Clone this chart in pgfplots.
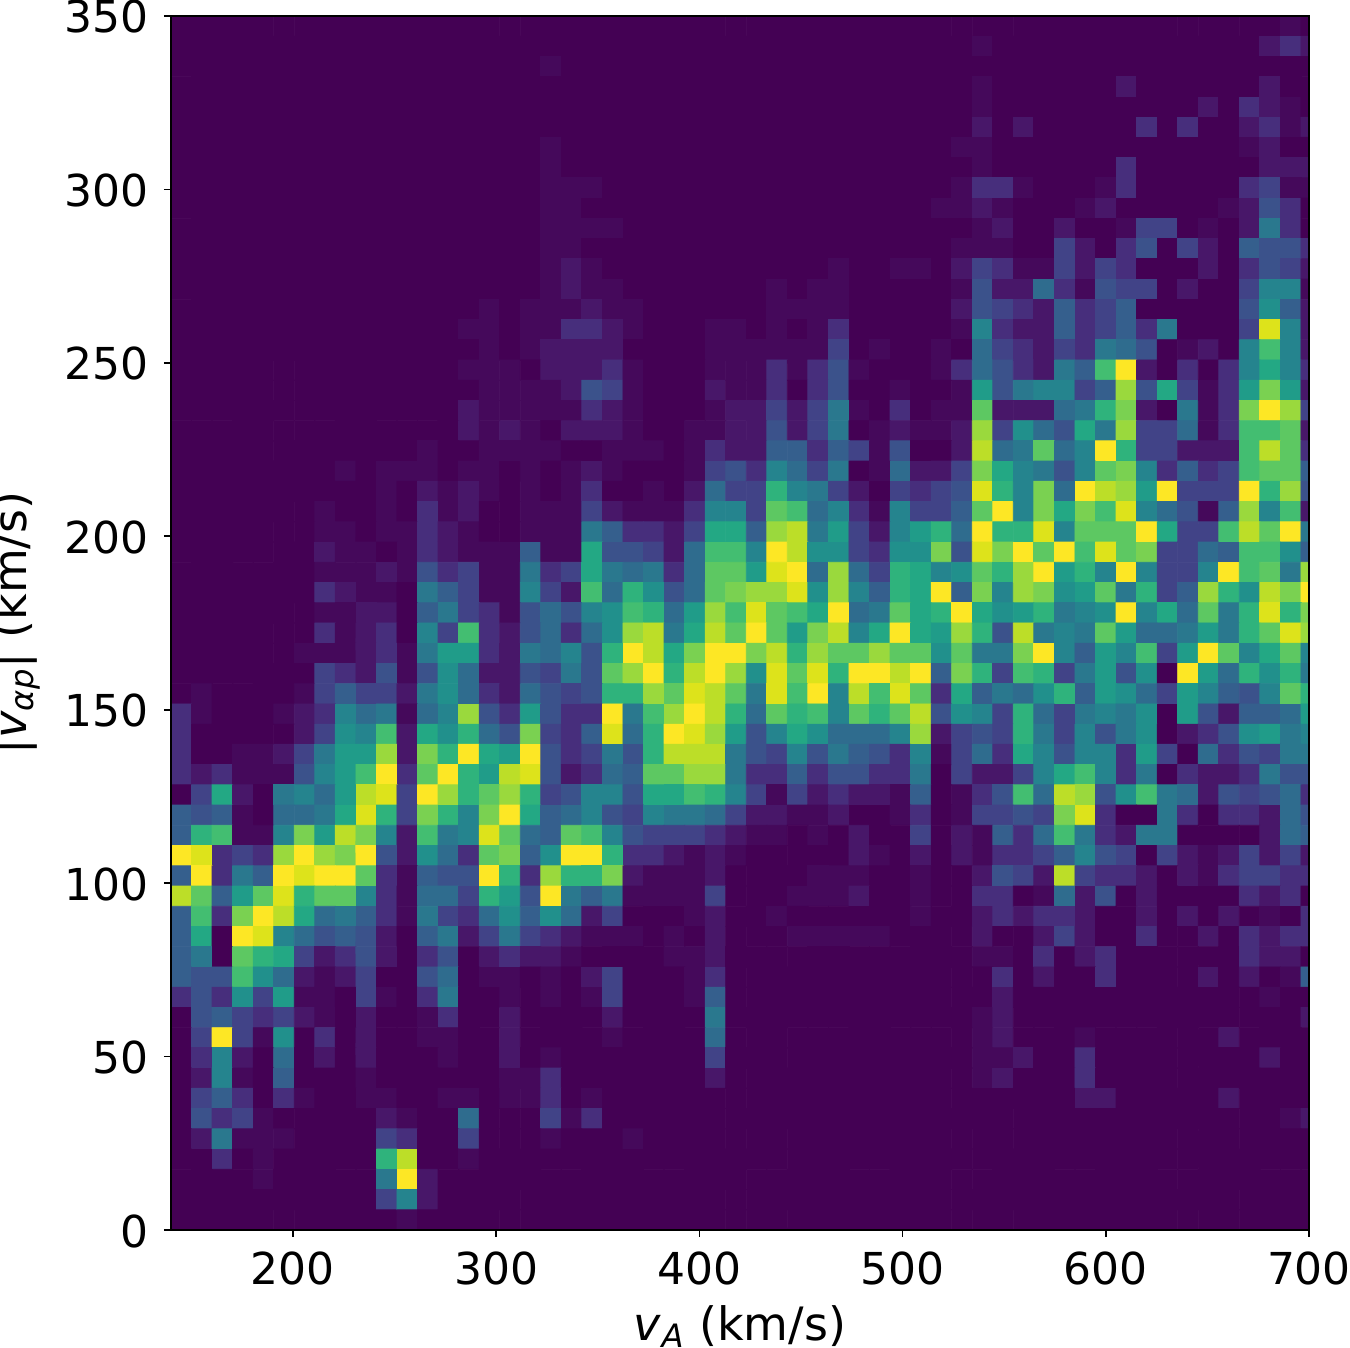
\documentclass[border=0pt]{standalone}
\usepackage{fontspec}
\setmainfont{DejaVu Sans}
\usepackage{pgfplots}
\pgfplotsset{compat=1.18}
\begin{document}
\begin{tikzpicture}
\useasboundingbox (-85.5pt,-59pt) rectangle (589.5pt,615pt);
\begin{axis}[
    at={(0pt,0pt)}, anchor=south west,
    scale only axis, width=569pt, height=607pt,
    xmin=140, xmax=700, ymin=0, ymax=350,
    xtick={200,300,400,500,600,700},
    ytick={0,50,100,150,200,250,300,350},
    tick align=outside, xtick pos=bottom, ytick pos=left,
    tick style={black, line width=0.8pt}, major tick length=3.5pt,
    axis line style={line width=0.8pt},
    /pgf/number format/assume math mode=true,
    ticklabel style={font=\fontsize{22}{26}\selectfont},
    xticklabel style={yshift=-4pt},
    yticklabel style={xshift=-4pt, yshift=-0.5pt},
    label style={font=\fontsize{23}{27}\selectfont},
    xlabel style={yshift=-3pt},
    ylabel style={yshift=5.5pt},
    xlabel={\textit{v}\textsubscript{\textit{A}} (km/s)},
    ylabel={|\textit{v}\textsubscript{\textit{αp}}| (km/s)},
    colormap/viridis, point meta min=0, point meta max=20,
    axis on top,
]
\addplot[matrix plot*, mesh/cols=56, point meta=explicit] table[
    header=false, row sep=\\,
    x expr={140+10.11*mod(\coordindex+0.5,56)},
    y expr={350-5.83333*(floor((\coordindex+0.5)/56)+0.5)},
    meta expr={ifthenelse(\thisrowno{0}==1,0.4,ifthenelse(\thisrowno{0}==2,1.2,ifthenelse(\thisrowno{0}==3,2.6,\thisrowno{0})))}] {
0\\0\\0\\0\\0\\0\\0\\0\\0\\0\\0\\0\\0\\0\\ 0\\0\\0\\0\\0\\0\\0\\0\\0\\0\\0\\0\\0\\0\\ 0\\0\\0\\0\\0\\0\\0\\0\\0\\0\\0\\0\\0\\0\\ 0\\0\\0\\0\\0\\0\\0\\0\\0\\0\\0\\0\\1\\0\\
0\\0\\0\\0\\0\\0\\0\\0\\0\\0\\0\\0\\0\\0\\ 0\\0\\0\\0\\0\\0\\0\\0\\0\\0\\0\\0\\0\\0\\ 0\\0\\0\\0\\0\\0\\0\\0\\0\\0\\0\\1\\0\\0\\ 0\\0\\0\\0\\0\\0\\0\\0\\0\\0\\0\\2\\3\\2\\
0\\0\\0\\0\\0\\0\\0\\0\\0\\0\\0\\0\\0\\0\\ 0\\0\\0\\0\\1\\0\\0\\0\\0\\0\\0\\0\\0\\0\\ 0\\0\\0\\0\\0\\0\\0\\0\\0\\0\\0\\0\\0\\0\\ 0\\0\\0\\0\\0\\0\\0\\0\\0\\0\\0\\0\\0\\0\\
0\\0\\0\\0\\0\\0\\0\\0\\0\\0\\0\\0\\0\\0\\ 0\\0\\0\\0\\0\\0\\0\\0\\0\\0\\0\\0\\0\\0\\ 0\\0\\0\\0\\0\\0\\0\\0\\0\\0\\0\\1\\0\\0\\ 0\\0\\0\\0\\2\\0\\0\\0\\0\\0\\0\\2\\0\\0\\
0\\0\\0\\0\\0\\0\\0\\0\\0\\0\\0\\0\\0\\0\\ 0\\0\\0\\0\\0\\0\\0\\0\\0\\0\\0\\0\\0\\0\\ 0\\0\\0\\0\\0\\0\\0\\0\\0\\0\\0\\1\\0\\0\\ 0\\0\\0\\0\\0\\0\\0\\0\\2\\0\\3\\2\\1\\0\\
0\\0\\0\\0\\0\\0\\0\\0\\0\\0\\0\\0\\0\\0\\ 0\\0\\0\\0\\0\\0\\0\\0\\0\\0\\0\\0\\0\\0\\ 0\\0\\0\\0\\0\\0\\0\\0\\0\\0\\0\\2\\0\\2\\ 0\\0\\0\\0\\0\\3\\0\\3\\0\\0\\2\\3\\1\\2\\
0\\0\\0\\0\\0\\0\\0\\0\\0\\0\\0\\0\\0\\0\\ 0\\0\\0\\0\\1\\0\\0\\0\\0\\0\\0\\0\\0\\0\\ 0\\0\\0\\0\\0\\0\\0\\0\\0\\0\\1\\1\\0\\0\\ 0\\0\\0\\0\\0\\0\\0\\0\\0\\0\\1\\2\\0\\0\\
0\\0\\0\\0\\0\\0\\0\\0\\0\\0\\0\\0\\0\\0\\ 0\\0\\0\\0\\1\\0\\0\\0\\0\\0\\0\\0\\0\\0\\ 0\\0\\0\\0\\0\\0\\0\\0\\0\\0\\0\\1\\0\\0\\ 0\\0\\0\\0\\3\\0\\0\\0\\0\\0\\0\\2\\2\\2\\
0\\0\\0\\0\\0\\0\\0\\0\\0\\0\\0\\0\\0\\0\\ 0\\0\\0\\0\\1\\1\\1\\0\\0\\0\\0\\0\\0\\0\\ 0\\0\\0\\0\\0\\0\\0\\0\\0\\0\\1\\3\\3\\1\\ 0\\0\\0\\1\\3\\0\\0\\0\\0\\0\\3\\4\\1\\1\\
0\\0\\0\\0\\0\\0\\0\\0\\0\\0\\0\\0\\0\\0\\ 0\\0\\0\\0\\1\\1\\0\\0\\0\\0\\0\\0\\0\\0\\ 0\\0\\0\\0\\0\\0\\0\\0\\0\\1\\1\\2\\1\\0\\ 0\\0\\1\\2\\0\\0\\0\\0\\0\\1\\2\\5\\3\\0\\
0\\0\\0\\0\\0\\0\\0\\0\\0\\0\\0\\0\\0\\0\\ 0\\0\\0\\0\\1\\1\\1\\1\\0\\0\\0\\0\\0\\0\\ 0\\0\\0\\0\\0\\0\\0\\0\\0\\0\\0\\1\\2\\0\\ 0\\2\\0\\0\\1\\4\\4\\0\\1\\0\\2\\8\\3\\0\\
0\\0\\0\\0\\0\\0\\0\\0\\0\\0\\0\\0\\0\\0\\ 0\\0\\0\\0\\1\\1\\0\\0\\0\\0\\0\\0\\0\\0\\ 0\\0\\0\\0\\0\\0\\0\\0\\0\\0\\1\\1\\1\\0\\ 0\\4\\2\\0\\3\\5\\0\\4\\2\\0\\6\\5\\5\\3\\
0\\0\\0\\0\\0\\0\\0\\0\\0\\0\\0\\0\\0\\0\\ 0\\0\\0\\0\\1\\2\\1\\0\\0\\0\\0\\0\\0\\0\\ 0\\0\\0\\0\\1\\0\\0\\1\\1\\0\\2\\4\\3\\1\\ 1\\4\\2\\4\\3\\0\\0\\0\\2\\0\\3\\5\\4\\2\\
0\\0\\0\\0\\0\\0\\0\\0\\0\\0\\0\\0\\0\\0\\ 0\\0\\0\\0\\1\\2\\1\\1\\0\\0\\0\\0\\0\\0\\ 0\\1\\0\\1\\1\\0\\0\\0\\0\\0\\1\\5\\2\\2\\ 7\\3\\1\\5\\4\\4\\0\\2\\0\\0\\4\\9\\9\\1\\
0\\0\\0\\0\\0\\0\\0\\0\\0\\0\\0\\0\\0\\0\\ 0\\1\\0\\1\\1\\1\\2\\1\\1\\0\\0\\0\\0\\0\\ 0\\1\\1\\1\\1\\0\\0\\0\\0\\0\\2\\5\\4\\3\\ 2\\6\\3\\4\\6\\0\\0\\0\\0\\0\\5\\10\\6\\2\\
0\\0\\0\\0\\0\\0\\0\\0\\0\\0\\0\\0\\0\\0\\ 1\\1\\0\\1\\1\\3\\3\\2\\1\\0\\0\\0\\1\\1\\ 0\\1\\0\\1\\3\\0\\0\\0\\0\\0\\1\\9\\3\\2\\ 2\\6\\3\\4\\6\\3\\8\\0\\0\\0\\4\\19\\9\\2\\
0\\0\\0\\0\\0\\0\\0\\0\\0\\0\\0\\0\\0\\0\\ 0\\1\\0\\1\\2\\2\\2\\2\\0\\0\\0\\0\\1\\1\\ 1\\1\\1\\1\\4\\0\\1\\0\\0\\1\\0\\7\\4\\3\\ 2\\4\\3\\8\\7\\5\\0\\1\\2\\0\\9\\14\\9\\2\\
0\\0\\0\\0\\0\\0\\0\\0\\0\\0\\0\\0\\0\\0\\ 1\\1\\1\\0\\2\\2\\2\\3\\1\\0\\0\\0\\1\\1\\ 1\\3\\1\\3\\5\\1\\0\\0\\0\\1\\3\\7\\5\\3\\ 2\\8\\6\\14\\20\\2\\0\\3\\0\\3\\9\\12\\9\\3\\
0\\0\\0\\0\\0\\0\\0\\0\\0\\0\\0\\0\\0\\0\\ 0\\1\\1\\1\\1\\2\\5\\4\\1\\0\\0\\0\\2\\1\\ 1\\3\\0\\3\\5\\0\\0\\1\\0\\0\\1\\11\\5\\8\\ 9\\9\\4\\6\\17\\5\\12\\4\\1\\3\\11\\16\\11\\2\\
0\\0\\0\\0\\0\\0\\0\\0\\0\\0\\0\\0\\0\\0\\ 2\\1\\1\\1\\1\\1\\3\\2\\1\\0\\0\\0\\1\\2\\ 2\\4\\2\\4\\8\\1\\0\\3\\0\\1\\1\\15\\2\\2\\ 2\\7\\8\\13\\16\\2\\0\\8\\1\\3\\16\\20\\17\\4\\
0\\0\\0\\0\\0\\0\\0\\0\\0\\0\\0\\0\\0\\0\\ 2\\1\\2\\1\\0\\2\\2\\2\\1\\0\\0\\1\\1\\2\\ 2\\5\\2\\4\\8\\0\\1\\2\\1\\1\\2\\17\\4\\10\\ 7\\5\\12\\8\\17\\4\\4\\7\\1\\3\\14\\14\\15\\2\\
0\\0\\0\\0\\0\\0\\0\\0\\0\\0\\0\\0\\1\\0\\ 0\\1\\1\\1\\1\\0\\0\\1\\1\\1\\0\\1\\3\\2\\ 2\\6\\6\\3\\6\\4\\1\\5\\0\\0\\2\\18\\7\\8\\ 15\\7\\9\\20\\13\\4\\4\\2\\2\\2\\14\\18\\15\\3\\
0\\0\\0\\0\\0\\0\\0\\0\\1\\0\\1\\1\\1\\0\\ 1\\1\\0\\1\\0\\1\\2\\1\\0\\0\\0\\1\\4\\5\\ 3\\9\\7\\4\\8\\0\\1\\7\\2\\2\\4\\16\\12\\9\\ 8\\5\\9\\15\\16\\9\\3\\6\\3\\4\\14\\15\\15\\6\\
0\\0\\0\\0\\0\\0\\0\\0\\0\\0\\1\\0\\2\\1\\ 2\\1\\0\\1\\0\\1\\3\\0\\0\\1\\0\\2\\7\\4\\ 4\\13\\9\\8\\4\\2\\0\\4\\3\\4\\5\\19\\13\\9\\ 16\\7\\20\\18\\17\\11\\20\\4\\4\\4\\20\\13\\17\\5\\
0\\0\\0\\0\\0\\0\\0\\1\\0\\0\\1\\0\\3\\1\\ 2\\0\\0\\1\\1\\1\\4\\2\\1\\1\\1\\3\\9\\9\\ 4\\15\\14\\7\\9\\3\\1\\9\\4\\4\\6\\15\\20\\9\\ 16\\12\\16\\14\\19\\9\\7\\5\\1\\6\\17\\9\\14\\2\\
0\\0\\0\\0\\0\\0\\0\\1\\1\\0\\1\\1\\3\\2\\ 1\\0\\0\\1\\1\\1\\8\\6\\3\\3\\2\\4\\12\\12\\ 6\\17\\18\\8\\11\\4\\2\\9\\11\\13\\7\\20\\13\\13\\ 19\\9\\15\\15\\15\\20\\12\\4\\4\\14\\18\\15\\20\\8\\
0\\0\\0\\0\\0\\0\\0\\2\\1\\1\\0\\1\\3\\2\\ 1\\1\\1\\6\\1\\1\\12\\5\\5\\4\\2\\7\\14\\14\\ 9\\20\\18\\10\\10\\4\\3\\10\\10\\16\\5\\19\\16\\20\\ 15\\20\\14\\19\\15\\16\\4\\4\\7\\6\\14\\14\\10\\6\\
0\\0\\0\\0\\0\\0\\0\\1\\1\\1\\2\\1\\5\\3\\ 4\\1\\1\\8\\3\\4\\12\\8\\7\\8\\3\\7\\15\\15\\ 11\\19\\20\\7\\17\\7\\4\\13\\12\\9\\10\\15\\13\\17\\ 20\\11\\13\\9\\20\\9\\4\\4\\9\\20\\14\\15\\8\\17\\
0\\0\\0\\0\\0\\0\\0\\3\\2\\1\\1\\0\\8\\6\\ 4\\1\\1\\9\\4\\2\\14\\7\\13\\10\\5\\7\\15\\16\\ 17\\17\\19\\10\\17\\9\\6\\13\\12\\20\\6\\16\\9\\17\\ 16\\10\\11\\15\\8\\13\\4\\6\\17\\13\\10\\18\\16\\20\\
0\\0\\0\\0\\0\\0\\0\\1\\1\\2\\2\\0\\6\\8\\ 4\\3\\1\\5\\7\\5\\9\\10\\14\\13\\7\\11\\17\\14\\ 19\\15\\14\\12\\20\\7\\8\\15\\12\\13\\20\\12\\10\\11\\ 13\\8\\9\\10\\20\\9\\12\\7\\15\\8\\13\\19\\13\\16\\
0\\0\\0\\0\\0\\0\\0\\3\\1\\2\\3\\0\\9\\4\\ 14\\3\\2\\5\\7\\3\\7\\10\\17\\18\\8\\12\\18\\15\\ 20\\15\\11\\16\\18\\9\\12\\20\\12\\11\\17\\13\\5\\18\\ 8\\9\\8\\15\\11\\7\\7\\8\\11\\8\\13\\15\\19\\17\\
0\\0\\0\\0\\0\\0\\1\\1\\1\\2\\3\\1\\8\\11\\ 11\\3\\2\\8\\7\\9\\5\\13\\20\\18\\12\\16\\20\\20\\ 16\\18\\13\\17\\15\\15\\17\\15\\15\\10\\15\\8\\8\\16\\ 20\\9\\6\\11\\9\\14\\4\\11\\20\\15\\9\\12\\15\\9\\
0\\0\\0\\0\\0\\0\\0\\4\\3\\2\\5\\1\\5\\10\\ 7\\2\\2\\5\\4\\8\\5\\15\\17\\20\\13\\18\\20\\17\\ 10\\19\\15\\19\\13\\20\\20\\18\\20\\6\\16\\13\\4\\14\\ 13\\4\\8\\11\\5\\10\\0\\20\\11\\7\\13\\10\\13\\8\\
0\\1\\0\\0\\0\\0\\1\\4\\6\\4\\4\\2\\8\\10\\ 7\\3\\2\\7\\5\\4\\5\\13\\13\\17\\15\\19\\18\\15\\ 8\\19\\14\\20\\9\\18\\14\\19\\15\\3\\12\\6\\8\\7\\ 10\\13\\6\\11\\10\\7\\4\\11\\9\\6\\5\\9\\15\\13\\
3\\1\\0\\0\\0\\1\\2\\3\\9\\7\\8\\1\\7\\9\\ 17\\5\\3\\11\\5\\3\\3\\20\\8\\14\\17\\20\\18\\13\\ 7\\15\\13\\14\\9\\15\\13\\15\\18\\5\\10\\9\\4\\13\\ 7\\4\\8\\9\\8\\10\\0\\11\\5\\2\\6\\6\\7\\11\\
3\\0\\0\\0\\0\\0\\2\\4\\10\\9\\14\\2\\12\\10\\ 13\\7\\5\\16\\4\\3\\6\\19\\7\\13\\20\\19\\17\\11\\ 5\\9\\12\\10\\7\\7\\7\\9\\17\\2\\4\\5\\4\\13\\ 8\\4\\9\\5\\8\\10\\0\\2\\3\\5\\10\\11\\8\\9\\
3\\0\\0\\1\\1\\2\\4\\8\\11\\11\\17\\2\\16\\13\\ 20\\12\\11\\20\\5\\3\\4\\8\\5\\13\\18\\18\\18\\8\\ 5\\4\\9\\5\\8\\6\\5\\3\\9\\1\\4\\7\\3\\12\\ 9\\5\\9\\9\\3\\11\\4\\0\\7\\3\\5\\4\\8\\8\\
3\\2\\3\\1\\1\\1\\5\\9\\11\\14\\20\\3\\15\\20\\ 13\\11\\18\\19\\5\\2\\3\\7\\6\\15\\15\\17\\17\\8\\ 3\\3\\6\\3\\5\\5\\3\\3\\8\\0\\4\\2\\2\\4\\ 9\\12\\14\\9\\3\\8\\0\\3\\2\\2\\3\\8\\5\\5\\
0\\4\\12\\2\\0\\8\\9\\7\\11\\18\\19\\4\\20\\17\\ 13\\15\\17\\13\\4\\5\\9\\9\\5\\12\\12\\14\\13\\9\\ 4\\1\\4\\2\\3\\2\\2\\1\\6\\0\\1\\3\\5\\14\\ 7\\18\\17\\5\\10\\14\\8\\7\\2\\5\\4\\5\\7\\3\\
6\\5\\6\\1\\0\\7\\7\\8\\12\\19\\13\\4\\16\\13\\ 9\\16\\20\\12\\6\\7\\9\\5\\4\\9\\8\\8\\7\\4\\ 2\\2\\1\\1\\2\\0\\0\\1\\3\\0\\1\\4\\4\\5\\ 4\\16\\19\\3\\0\\0\\8\\3\\0\\3\\3\\2\\7\\5\\
6\\13\\14\\1\\1\\9\\16\\11\\18\\16\\9\\2\\14\\8\\ 9\\19\\15\\7\\6\\15\\14\\9\\5\\4\\4\\4\\3\\2\\ 1\\1\\0\\1\\0\\2\\0\\0\\4\\0\\2\\1\\6\\3\\ 7\\14\\8\\3\\2\\8\\8\\0\\0\\0\\0\\2\\7\\6\\
20\\19\\3\\4\\3\\17\\20\\17\\16\\20\\5\\2\\10\\7\\ 3\\15\\16\\6\\10\\20\\20\\13\\3\\3\\2\\1\\2\\1\\ 0\\0\\0\\0\\0\\2\\1\\0\\2\\0\\2\\1\\3\\3\\ 4\\6\\9\\5\\4\\0\\4\\2\\1\\2\\4\\2\\4\\2\\
6\\20\\3\\8\\6\\20\\19\\20\\20\\15\\3\\1\\6\\5\\ 5\\20\\13\\3\\17\\13\\13\\16\\2\\1\\1\\1\\2\\0\\ 0\\0\\0\\1\\1\\1\\0\\0\\1\\0\\0\\2\\5\\4\\ 2\\18\\4\\3\\3\\2\\0\\2\\1\\3\\4\\4\\3\\3\\
18\\15\\6\\11\\15\\19\\13\\15\\15\\9\\3\\1\\7\\7\\ 4\\13\\11\\5\\20\\8\\6\\8\\1\\1\\1\\1\\4\\0\\ 0\\0\\1\\1\\1\\2\\0\\0\\1\\0\\0\\3\\3\\0\\ 1\\7\\2\\5\\0\\2\\0\\0\\0\\0\\3\\2\\3\\0\\
6\\14\\3\\16\\20\\18\\12\\7\\8\\6\\3\\1\\8\\4\\ 3\\7\\10\\6\\10\\7\\2\\4\\0\\0\\0\\1\\2\\0\\ 0\\1\\0\\0\\0\\0\\0\\0\\1\\0\\0\\2\\3\\2\\ 3\\3\\2\\0\\0\\2\\0\\2\\0\\2\\0\\1\\0\\3\\
6\\12\\0\\20\\19\\9\\7\\5\\6\\5\\2\\0\\6\\8\\ 2\\4\\8\\4\\3\\2\\1\\1\\1\\0\\1\\0\\2\\0\\ 0\\0\\1\\1\\1\\1\\1\\0\\0\\0\\0\\2\\0\\0\\ 2\\4\\2\\0\\0\\3\\0\\0\\2\\0\\3\\2\\3\\3\\
6\\8\\0\\15\\13\\12\\4\\2\\3\\5\\2\\0\\3\\5\\ 0\\2\\3\\2\\2\\1\\0\\0\\0\\0\\1\\1\\2\\0\\ 0\\0\\0\\0\\0\\0\\0\\0\\0\\0\\0\\1\\1\\0\\ 3\\0\\2\\3\\0\\0\\0\\0\\0\\0\\3\\2\\2\\0\\
6\\5\\5\\14\\10\\7\\2\\1\\2\\4\\0\\0\\5\\7\\ 0\\1\\1\\0\\1\\0\\2\\4\\0\\0\\0\\1\\3\\0\\ 0\\0\\0\\0\\0\\0\\0\\0\\0\\0\\0\\0\\3\\0\\ 2\\0\\0\\3\\0\\0\\0\\0\\2\\0\\2\\0\\1\\6\\
3\\5\\3\\10\\4\\11\\1\\1\\0\\4\\1\\0\\3\\8\\ 0\\0\\1\\0\\1\\0\\1\\4\\0\\0\\0\\1\\6\\0\\ 0\\0\\0\\0\\0\\0\\0\\0\\0\\0\\0\\0\\2\\0\\ 0\\0\\0\\0\\0\\0\\0\\0\\0\\0\\0\\1\\0\\0\\
0\\5\\6\\4\\3\\4\\2\\1\\0\\2\\0\\0\\1\\3\\ 0\\0\\2\\0\\0\\0\\0\\2\\0\\0\\0\\0\\8\\0\\ 0\\0\\0\\0\\0\\0\\0\\0\\0\\0\\0\\1\\2\\0\\ 0\\0\\0\\0\\0\\0\\0\\0\\0\\0\\0\\0\\0\\2\\
0\\4\\20\\4\\1\\10\\0\\3\\0\\2\\0\\0\\1\\1\\ 0\\0\\2\\0\\0\\0\\0\\1\\0\\0\\0\\0\\7\\0\\ 0\\0\\0\\0\\0\\0\\0\\0\\0\\0\\0\\1\\2\\0\\ 0\\0\\1\\0\\0\\0\\0\\0\\0\\2\\0\\0\\0\\0\\
0\\3\\9\\2\\0\\7\\0\\2\\0\\2\\0\\0\\0\\1\\ 0\\0\\2\\0\\1\\0\\0\\0\\0\\0\\0\\0\\4\\0\\ 0\\0\\0\\0\\0\\0\\0\\0\\0\\0\\0\\1\\1\\2\\ 0\\0\\3\\0\\0\\0\\0\\0\\0\\0\\0\\2\\0\\0\\
0\\2\\9\\1\\0\\6\\0\\0\\0\\1\\0\\0\\0\\0\\ 0\\0\\1\\1\\3\\0\\0\\0\\0\\0\\0\\0\\2\\0\\ 0\\0\\0\\0\\0\\0\\0\\0\\0\\0\\0\\1\\2\\0\\ 0\\0\\3\\0\\0\\0\\0\\0\\0\\0\\0\\0\\0\\0\\
0\\4\\6\\3\\0\\3\\1\\0\\0\\1\\1\\0\\0\\1\\ 1\\0\\1\\1\\3\\0\\1\\0\\0\\0\\0\\0\\0\\0\\ 0\\0\\0\\0\\0\\0\\0\\0\\0\\0\\0\\0\\0\\0\\ 0\\0\\2\\2\\0\\0\\0\\0\\0\\2\\0\\0\\0\\0\\
0\\5\\3\\4\\1\\0\\0\\0\\0\\0\\2\\1\\0\\0\\ 7\\0\\0\\0\\4\\1\\3\\0\\0\\0\\0\\0\\0\\0\\ 0\\0\\0\\0\\0\\0\\0\\0\\0\\0\\0\\0\\0\\0\\ 0\\0\\0\\0\\0\\0\\0\\0\\0\\0\\0\\0\\1\\2\\
0\\2\\8\\1\\1\\1\\0\\0\\0\\0\\4\\3\\0\\0\\ 4\\0\\0\\0\\1\\0\\0\\0\\1\\0\\0\\0\\0\\0\\ 0\\0\\0\\0\\0\\0\\0\\0\\0\\0\\0\\0\\0\\0\\ 0\\0\\0\\0\\0\\0\\0\\0\\0\\0\\0\\0\\0\\0\\
0\\0\\3\\0\\1\\0\\0\\0\\0\\0\\13\\18\\0\\0\\ 1\\0\\0\\0\\0\\0\\0\\0\\0\\0\\0\\0\\0\\0\\ 0\\0\\0\\0\\0\\0\\0\\0\\0\\0\\0\\0\\0\\0\\ 0\\0\\0\\0\\0\\0\\0\\0\\0\\0\\0\\0\\0\\0\\
0\\0\\0\\0\\1\\0\\0\\0\\0\\0\\8\\20\\2\\0\\ 0\\0\\0\\0\\0\\0\\0\\0\\0\\0\\0\\0\\0\\0\\ 0\\0\\0\\0\\0\\0\\0\\0\\0\\0\\0\\0\\0\\0\\ 0\\0\\0\\0\\0\\0\\0\\0\\0\\0\\0\\0\\0\\0\\
0\\0\\0\\0\\0\\0\\0\\0\\0\\0\\4\\9\\2\\0\\ 0\\0\\0\\0\\0\\0\\0\\0\\0\\0\\0\\0\\0\\0\\ 0\\0\\0\\0\\0\\0\\0\\0\\0\\0\\0\\0\\0\\0\\ 0\\0\\0\\0\\0\\0\\0\\0\\0\\0\\0\\0\\0\\0\\
0\\0\\0\\0\\0\\0\\0\\0\\0\\0\\0\\1\\0\\0\\ 0\\0\\0\\0\\0\\0\\0\\0\\0\\0\\0\\0\\0\\0\\ 0\\0\\0\\0\\0\\0\\0\\0\\0\\0\\0\\0\\0\\0\\ 0\\0\\0\\0\\0\\0\\0\\0\\0\\0\\0\\0\\0\\0\\
};
\end{axis}
\end{tikzpicture}
\end{document}
